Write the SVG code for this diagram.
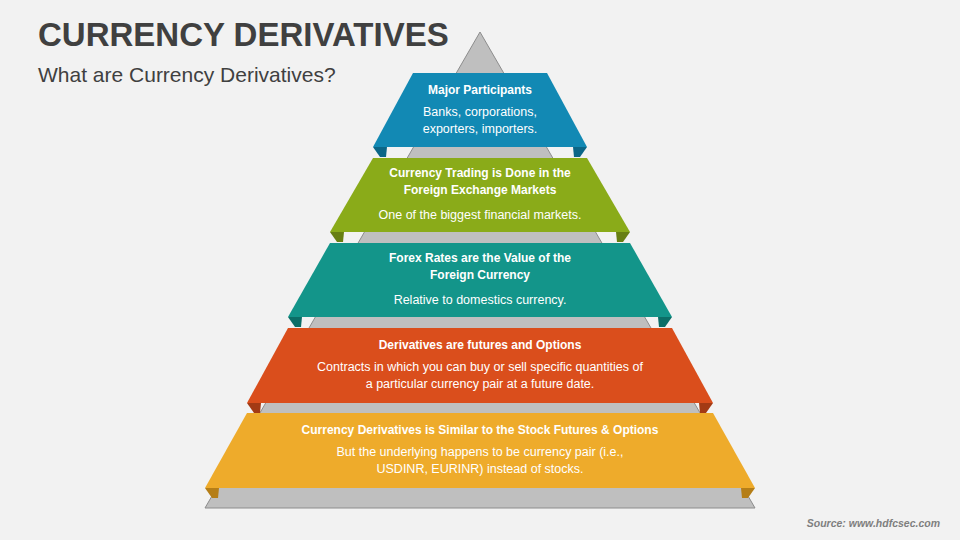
<svg xmlns="http://www.w3.org/2000/svg" width="960" height="540" viewBox="0 0 960 540">
<style>
.h{font:bold 12px "Liberation Sans",Arial,sans-serif;fill:#fff;text-anchor:middle}
.b{font:12.5px "Liberation Sans",Arial,sans-serif;fill:#fff;text-anchor:middle}
</style>
<rect width="960" height="540" fill="#F2F2F2"/>
<text x="38" y="46" font-family="Liberation Sans,Arial,sans-serif" font-weight="bold" font-size="33" fill="#404040">CURRENCY DERIVATIVES</text>
<text x="38" y="82" font-family="Liberation Sans,Arial,sans-serif" font-size="21" fill="#404040">What are Currency Derivatives?</text>
<text x="940" y="527" text-anchor="end" font-family="Liberation Sans,Arial,sans-serif" font-weight="bold" font-style="italic" font-size="10.5" fill="#7F7F7F">Source: www.hdfcsec.com</text>
<g id="base">
<polygon points="480,32 755,508 205,508" fill="#BFBFBF" stroke="#8C8C8C" stroke-width="1"/>
</g>
<g id="n1">
<polygon points="373,147 387,147 386,157 380,157" fill="#0B6687"/><polygon points="587,147 573,147 574,157 580,157" fill="#0B6687"/>
<polygon points="413,73 547,73 587,147 373,147" fill="#1289B4"/>
<text class="h" x="480" y="94">Major Participants</text>
<text class="b" x="480" y="116">Banks, corporations,</text>
<text class="b" x="480" y="133">exporters, importers.</text>
</g>
<g id="n2">
<polygon points="330,232 344,232 343,242 337,242" fill="#677F12"/><polygon points="630,232 616,232 617,242 623,242" fill="#677F12"/>
<polygon points="373,158 587,158 630,232 330,232" fill="#8AAB19"/>
<text class="h" x="480" y="177">Currency Trading is Done in the</text>
<text class="h" x="480" y="194">Foreign Exchange Markets</text>
<text class="b" x="480" y="219">One of the biggest financial markets.</text>
</g>
<g id="n3">
<polygon points="288,317 302,317 301,327 295,327" fill="#0C6E67"/><polygon points="672,317 658,317 659,327 665,327" fill="#0C6E67"/>
<polygon points="330,243 630,243 672,317 288,317" fill="#13958A"/>
<text class="h" x="480" y="262">Forex Rates are the Value of the</text>
<text class="h" x="480" y="279">Foreign Currency</text>
<text class="b" x="480" y="304">Relative to domestics currency.</text>
</g>
<g id="n4">
<polygon points="247,403 261,403 260,413 254,413" fill="#A33A14"/><polygon points="713,403 699,403 700,413 706,413" fill="#A33A14"/>
<polygon points="288,328 672,328 713,403 247,403" fill="#DA4E1C"/>
<text class="h" x="480" y="349">Derivatives are futures and Options</text>
<text class="b" x="480" y="371">Contracts in which you can buy or sell specific quantities of</text>
<text class="b" x="480" y="388">a particular currency pair at a future date.</text>
</g>
<g id="n5">
<polygon points="205,488 219,488 218,498 212,498" fill="#B57E17"/><polygon points="755,488 741,488 742,498 748,498" fill="#B57E17"/>
<polygon points="247,413 713,413 755,488 205,488" fill="#EEAB2B"/>
<text class="h" x="480" y="434">Currency Derivatives is Similar to the Stock Futures &amp; Options</text>
<text class="b" x="480" y="456">But the underlying happens to be currency pair (i.e.,</text>
<text class="b" x="480" y="473">USDINR, EURINR) instead of stocks.</text>
</g>
<g id="connectors"/>
</svg>
